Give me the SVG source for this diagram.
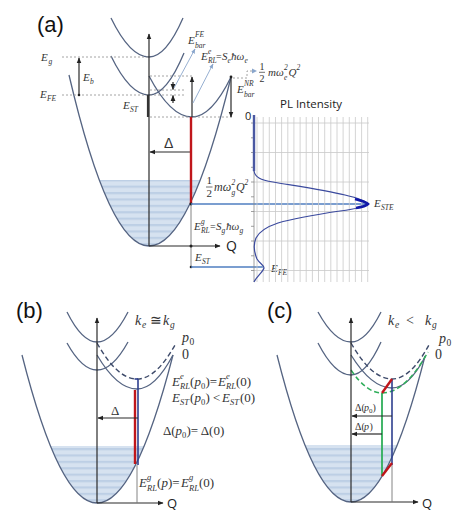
<svg xmlns="http://www.w3.org/2000/svg" width="474" height="530" viewBox="0 0 474 530">
<style>
.par{fill:none;stroke:#556482;stroke-width:1.3}
.dash{fill:none;stroke:#3d4a6a;stroke-width:1.4;stroke-dasharray:5,3}
.gdash{fill:none;stroke:#2fae5a;stroke-width:1.5;stroke-dasharray:5,3}
.ax{stroke:#2b2b2b;stroke-width:1.2;fill:none}
.dot{stroke:#9a9a9a;stroke-width:0.9;stroke-dasharray:2,2;fill:none}
.thin{stroke:#777;stroke-width:0.9;fill:none}
.blue{stroke:#4f7ec1;stroke-width:1.6;fill:none}
.red{stroke:#c0161b;stroke-width:2.4;fill:none}
.dblue{stroke:#2e3f8f;stroke-width:1.6;fill:none}
.green{stroke:#2fae5a;stroke-width:1.8;fill:none}
.ptr{stroke:#8aa6cc;stroke-width:0.9;fill:none}
.grid{stroke:#c9c9c9;stroke-width:0.8;fill:none}
.m{font-family:"Liberation Serif",serif;font-style:italic;font-size:11px;fill:#333}
.s{font-family:"Liberation Serif",serif;font-style:italic;font-size:7.5px;fill:#333}
.r{font-family:"Liberation Serif",serif;font-size:10px;fill:#333}
.mb{font-family:"Liberation Serif",serif;font-style:italic;font-size:13px;fill:#333}
.sb{font-family:"Liberation Serif",serif;font-style:italic;font-size:8.5px;fill:#333}
.rb{font-family:"Liberation Serif",serif;font-size:13px;fill:#333}
.pan{font-family:"Liberation Sans",Arial,sans-serif;font-size:22px;fill:#111}
.sans{font-family:"Open Sans","Liberation Sans",sans-serif;font-size:11.5px;fill:#222}
</style>
<defs>
<marker id="ah" viewBox="0 0 10 10" refX="9" refY="5" markerWidth="6" markerHeight="6" markerUnits="userSpaceOnUse" orient="auto-start-reverse"><path d="M0,1 L10,5 L0,9 z" fill="#222"/></marker>
<marker id="ap" viewBox="0 0 10 10" refX="9" refY="5" markerWidth="5" markerHeight="5" markerUnits="userSpaceOnUse" orient="auto"><path d="M0,1 L10,5 L0,9 z" fill="#8aa6cc"/></marker>
<pattern id="stripes" patternUnits="userSpaceOnUse" width="10" height="6.4"><rect width="10" height="6.4" fill="#d6e2f0"/><rect y="0" width="10" height="2.2" fill="#bdcfe5"/></pattern>
<clipPath id="ca"><path d="M69,75 Q109,246 149,246 Q190,246 231,77 Z"/></clipPath>
<clipPath id="cb"><path d="M22,355 Q59.5,503 97,503 Q135,503 173,355 Z"/></clipPath>
<clipPath id="cc"><path d="M277,355 Q314,502 351,502 Q388,502 425,356 Z"/></clipPath>
</defs>

<!-- ================= Panel (a) ================= -->
<g id="panel-a">
<text class="pan" x="37" y="32">(a)</text>
<rect x="60" y="180" width="180" height="70" fill="url(#stripes)" clip-path="url(#ca)"/>
<g id="a-curves">
<path class="par" d="M69,75 Q109,246 149,246 Q190,246 231,77"/>
<path class="par" d="M111,18 Q130,57 149,57 Q166,57 183,18"/>
<path class="par" d="M111,56 Q130,95 149,95 Q166.5,95 184,53"/>
<path class="par" d="M149,76 Q170.5,117 192,117 Q211.5,117 231,77"/>
</g>
<g id="a-connectors">
<line class="dot" x1="62" y1="57" x2="148" y2="57"/>
<line class="dot" x1="62" y1="95" x2="185" y2="95"/>
<line class="dot" x1="150" y1="76" x2="193" y2="76"/>
<line class="dot" x1="150" y1="90" x2="185" y2="90"/>
<line class="dot" x1="150" y1="117" x2="233" y2="117"/>
<path class="dot" d="M233,78 L247,78 L247,71 L255,71"/>
<path d="M252,68.5 L257,71 L252,73.5 z" fill="#8aa6cc"/>
<line class="ax" x1="149" y1="246" x2="149" y2="34" marker-end="url(#ah)"/>
<line class="ax" x1="149" y1="246" x2="220" y2="246" marker-end="url(#ah)"/>
<line class="ax" x1="79" y1="95" x2="79" y2="58" stroke-width="1" marker-end="url(#ah)"/>
<circle cx="79" cy="95" r="1.3" fill="#222"/>
<line x1="148" y1="95" x2="148" y2="117" stroke="#333" stroke-width="2.2"/>
<line class="ax" x1="173" y1="82" x2="173" y2="89.5" stroke-width="0.9" marker-end="url(#ah)"/>
<line class="ax" x1="173" y1="103" x2="173" y2="95.5" stroke-width="0.9" marker-end="url(#ah)"/>
<line class="ax" x1="192" y1="117" x2="192" y2="77" stroke-width="1" marker-end="url(#ah)"/>
<line class="ax" x1="231" y1="77" x2="231" y2="117" stroke-width="1" marker-end="url(#ah)"/>
<circle cx="231" cy="77" r="1.4" fill="#222"/>
<line class="ax" x1="191" y1="152" x2="150" y2="152" stroke-width="1" marker-end="url(#ah)"/>
<line class="ptr" x1="174" y1="88" x2="195" y2="49" marker-end="url(#ap)"/>
<line class="ptr" x1="193" y1="103" x2="213" y2="64" marker-end="url(#ap)"/>
<line class="red" x1="191" y1="117" x2="191" y2="204"/>
<line class="thin" x1="191" y1="204" x2="191" y2="267"/>
<circle cx="191" cy="204" r="1.4" fill="#222"/>
<circle cx="191" cy="246" r="1.5" fill="#222"/>
<circle cx="191" cy="267" r="1.3" fill="#222"/>
<line class="blue" x1="191" y1="204" x2="367" y2="204"/>
<line class="blue" x1="191" y1="267" x2="264" y2="267"/>
</g>
<g id="a-labels">
<text class="m" x="41" y="61">E</text><text class="s" x="48.5" y="63.5">g</text>
<text class="m" x="40" y="98">E</text><text class="s" x="47" y="100.5">FE</text>
<text class="m" x="83" y="81">E</text><text class="s" x="90" y="83.5">b</text>
<text class="m" x="123" y="109">E</text><text class="s" x="130" y="111.5">ST</text>
<text class="m" x="188" y="44">E</text><text class="s" x="195" y="36.5">FE</text><text class="s" x="195" y="47.5">bar</text>
<text class="m" x="201" y="60">E</text><text class="s" x="208" y="53.5">e</text><text class="s" x="208" y="63">RL</text>
<text class="r" x="216" y="60">=</text><text class="m" x="222" y="60">S</text><text class="s" x="227.5" y="62.5">e</text>
<text class="m" x="231" y="60">ħω</text><text class="s" x="244.5" y="62.5">e</text>
<text class="r" x="259.5" y="69.5">1</text><line x1="259" y1="72.3" x2="265" y2="72.3" stroke="#333" stroke-width="0.7"/><text class="r" x="259.5" y="81.5">2</text>
<text class="m" x="268" y="76">mω</text><text class="s" x="284" y="79.5">e</text><text class="s" x="284" y="70">2</text>
<text class="m" x="288.5" y="76">Q</text><text class="s" x="296.5" y="70">2</text>
<text class="m" x="237" y="93">E</text><text class="s" x="244" y="85.5">NR</text><text class="s" x="244" y="96.5">bar</text>
<text class="rb" x="164" y="148" style="font-family:'Liberation Sans',sans-serif;font-size:14px">Δ</text>
<text class="r" x="206.5" y="184" style="font-size:11px">1</text><line x1="206" y1="187" x2="212.5" y2="187" stroke="#333" stroke-width="0.7"/><text class="r" x="206.5" y="197" style="font-size:11px">2</text>
<text class="m" x="214" y="191" style="font-size:12px">mω</text><text class="s" x="231.5" y="194.5">g</text><text class="s" x="231.5" y="185">2</text>
<text class="m" x="236" y="191" style="font-size:12px">Q</text><text class="s" x="244.5" y="185">2</text>
<text class="m" x="194" y="230">E</text><text class="s" x="201" y="223.5">g</text><text class="s" x="201" y="233">RL</text>
<text class="r" x="210" y="230">=</text><text class="m" x="216" y="230">S</text><text class="s" x="221.5" y="232.5">g</text>
<text class="m" x="226" y="230">ħω</text><text class="s" x="239.5" y="232.5">g</text>
<text class="sans" x="226" y="251" style="font-size:14px">Q</text>
<text class="m" x="195" y="261">E</text><text class="s" x="202" y="263.5">ST</text>
<text class="m" x="374" y="207">E</text><text class="s" x="381" y="209.5">STE</text>
<text class="m" x="271" y="272">E</text><text class="s" x="278" y="274.5">FE</text>
</g>
</g>

<!-- PL intensity plot -->
<g id="pl-plot">
<text class="sans" x="280" y="108">PL Intensity</text>
<text class="sans" x="245" y="120" style="font-size:11px">0</text>
<g id="pl-grid">
<path class="grid" d="M257,117V282 M263.2,117V282 M269.3,117V282 M275.5,117V282 M281.6,117V282 M287.8,117V282 M293.9,117V282 M300.1,117V282 M306.2,117V282 M312.4,117V282 M318.5,117V282 M324.7,117V282 M330.8,117V282 M337,117V282 M343.1,117V282 M349.3,117V282 M355.4,117V282 M361.6,117V282 M367.7,117V282"/>
<path class="grid" d="M254,123H369 M254,152.5H369 M254,182H369 M254,211.5H369 M254,241H369 M254,270.5H369"/>
<path stroke="#888" stroke-width="0.8" d="M254,115V282 M251,123H254 M251,137.8H254 M251,152.5H254 M251,167.3H254 M251,182H254 M251,196.8H254 M251,211.5H254 M251,226.3H254 M251,241H254 M251,255.8H254 M251,270.5H254"/>
</g>
<path fill="none" stroke="#4a58a2" stroke-width="2.4" d="M254,115 L254,171"/>
<path fill="none" stroke="#3b4a9e" stroke-width="1.2" d="M254,171 C255,177 260,180 273,182 C290,185 325,190 345,195 C358,198 366,201 368,204 C366,207 355,209 340,211 C320,214 295,218 278,223 C266,227 259,232 256,238 C253,245 254,252 257,259 C260,264 264,265 264,268 C263,272 257,276 254,282"/>
<path fill="none" stroke="#1018a8" stroke-width="2.6" d="M355,199 C362,201 366,202 368,204 C366,206 362,207 356,208"/>
</g>

<!-- ================= Panel (b) ================= -->
<g id="panel-b">
<text class="pan" x="16" y="318">(b)</text>
<rect x="15" y="446" width="170" height="60" fill="url(#stripes)" clip-path="url(#cb)"/>
<g id="b-curves">
<path class="par" d="M22,355 Q59.5,503 97,503 Q135,503 173,355"/>
<path class="par" d="M67,312 Q82,342 97,342 Q112.5,342 128,312"/>
<path class="par" d="M67,343 Q82,370 97,370 Q112.5,370 128,342"/>
<path class="par" d="M97,355 Q117,389 137,389 Q155,389 173,355"/>
<path class="dash" d="M97,343 Q117,379 137,379 Q156,379 175,345"/>
</g>
<g id="b-connectors">
<line class="ax" x1="97" y1="503" x2="97" y2="318" marker-end="url(#ah)"/>
<line class="ax" x1="97" y1="503" x2="163" y2="503" marker-end="url(#ah)"/>
<line class="thin" x1="137" y1="465" x2="137" y2="503"/>
<line class="red" x1="135" y1="390" x2="135" y2="464"/>
<line class="dblue" x1="138" y1="379" x2="138" y2="465"/>
<line class="dblue" x1="134.5" y1="379" x2="138" y2="379" stroke-width="1.2"/>
<line class="ax" x1="138" y1="418" x2="98" y2="418" stroke-width="1" marker-end="url(#ah)"/>
</g>
<g id="b-labels">
<text class="rb" x="111" y="415">Δ</text>
<text class="mb" x="135" y="325" style="font-size:14px">k</text><text class="sb" x="142" y="328" style="font-size:9.5px">e</text>
<text class="rb" x="150" y="325" style="font-size:14px">≅</text>
<text class="mb" x="163" y="325" style="font-size:14px">k</text><text class="sb" x="170" y="328" style="font-size:9.5px">g</text>
<text class="mb" x="182" y="342" style="font-size:14px">p</text><text class="sb" x="189.5" y="345" style="font-size:9.5px;font-style:normal">0</text>
<text class="rb" x="182" y="359" style="font-size:14px">0</text>
<text class="mb" x="172" y="386">E</text><text class="sb" x="180" y="378.5">e</text><text class="sb" x="180" y="389">RL</text>
<text class="rb" x="190" y="386">(</text><text class="mb" x="194.5" y="386">p</text><text class="sb" x="201" y="389" style="font-style:normal">0</text><text class="rb" x="205.5" y="386">)=</text>
<text class="mb" x="218" y="386">E</text><text class="sb" x="226" y="378.5">e</text><text class="sb" x="226" y="389">RL</text>
<text class="rb" x="236" y="386">(0)</text>
<text class="mb" x="172" y="402">E</text><text class="sb" x="180" y="405">ST</text>
<text class="rb" x="190" y="402">(</text><text class="mb" x="194.5" y="402">p</text><text class="sb" x="201" y="405" style="font-style:normal">0</text><text class="rb" x="205.5" y="402">) &lt;</text>
<text class="mb" x="222" y="402">E</text><text class="sb" x="230" y="405">ST</text>
<text class="rb" x="240" y="402">(0)</text>
<text class="rb" x="163" y="435">Δ(</text><text class="mb" x="175.5" y="435">p</text><text class="sb" x="182" y="438" style="font-style:normal">0</text><text class="rb" x="186.5" y="435">)= Δ(0)</text>
<text class="mb" x="139" y="487">E</text><text class="sb" x="147" y="479.5">g</text><text class="sb" x="147" y="490.5">RL</text>
<text class="rb" x="157" y="487">(</text><text class="mb" x="161.5" y="487">p</text><text class="rb" x="168" y="487">)=</text>
<text class="mb" x="181" y="487">E</text><text class="sb" x="189" y="479.5">g</text><text class="sb" x="189" y="490.5">RL</text>
<text class="rb" x="199" y="487">(0)</text>
<text class="sans" x="167" y="508" style="font-size:13px">Q</text>
</g>
</g>

<!-- ================= Panel (c) ================= -->
<g id="panel-c">
<text class="pan" x="267" y="318">(c)</text>
<rect x="270" y="445" width="160" height="60" fill="url(#stripes)" clip-path="url(#cc)"/>
<g id="c-curves">
<path class="par" d="M277,355 Q314,502 351,502 Q388,502 425,356"/>
<path class="par" d="M318,312 Q334.5,342 351,342 Q366,342 381,312"/>
<path class="par" d="M318,343 Q334.5,375 351,375 Q366,375 381,342"/>
<path class="par" d="M351,355 Q371.5,388 392,388 Q408.5,388 425,357"/>
<path class="dash" d="M351,343 Q371.5,379 392,379 Q411,379 430,343"/>
<path class="gdash" d="M351,370 Q366.5,393 382,393 Q405,393 428,352"/>
</g>
<g id="c-connectors">
<line class="ax" x1="351" y1="502" x2="351" y2="318" marker-end="url(#ah)"/>
<line class="ax" x1="351" y1="502" x2="418" y2="502" marker-end="url(#ah)"/>
<line class="thin" x1="392" y1="465" x2="392" y2="502"/>
<line class="dblue" x1="392" y1="379" x2="392" y2="465"/>
<line class="green" x1="382" y1="393" x2="382" y2="476"/>
<line class="red" x1="382" y1="393" x2="392" y2="379"/>
<line class="red" x1="382" y1="476" x2="392" y2="463"/>
<line class="ax" x1="392" y1="416" x2="352" y2="416" stroke-width="1" marker-end="url(#ah)"/>
<line class="ax" x1="382" y1="434" x2="352" y2="434" stroke-width="1" marker-end="url(#ah)"/>
</g>
<g id="c-labels">
<text class="r" x="355" y="411">Δ(</text><text class="m" x="364" y="411" style="font-size:10px">p</text><text class="s" x="369" y="413" style="font-style:normal;font-size:7px">0</text><text class="r" x="372.5" y="411">)</text>
<text class="r" x="355" y="430">Δ(</text><text class="m" x="364" y="430" style="font-size:10px">p</text><text class="r" x="369.5" y="430">)</text>
<text class="mb" x="388" y="325" style="font-size:14px">k</text><text class="sb" x="395" y="328" style="font-size:9.5px">e</text>
<text class="rb" x="406" y="325" style="font-size:14px">&lt;</text>
<text class="mb" x="425" y="325" style="font-size:14px">k</text><text class="sb" x="432" y="328" style="font-size:9.5px">g</text>
<text class="mb" x="439" y="343" style="font-size:14px">p</text><text class="sb" x="446.5" y="346" style="font-size:9.5px;font-style:normal">0</text>
<text class="rb" x="435" y="359" style="font-size:14px">0</text>
<text class="sans" x="422" y="508" style="font-size:13px">Q</text>
</g>
</g>
</svg>
